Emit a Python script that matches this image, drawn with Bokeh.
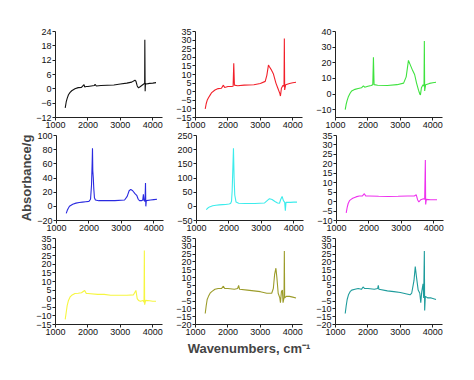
from bokeh.plotting import figure
from bokeh.layouts import column, row, Spacer
from bokeh.models import FixedTicker, Range1d
from bokeh.embed import file_html
from bokeh.resources import INLINE

# ---------------- data ----------------
x_ticks = [1000, 2000, 3000, 4000]

black_x = [1300, 1330, 1360, 1400, 1450, 1500, 1600, 1700, 1800, 1880, 1900, 1950, 2000, 2100, 2200, 2220, 2260, 2400, 2600, 2800, 3000, 3200, 3350, 3450, 3480, 3520, 3560, 3620, 3680, 3720, 3750, 3755, 3765, 3775, 3800, 3900, 4000, 4100]
black_y = [-8, -5.5, -4, -2.5, -1.5, -0.8, 0, 0.5, 0.6, 1.8, 0.8, 1.0, 1.0, 1.2, 1.4, 1.9, 1.2, 1.4, 1.5, 1.6, 2.0, 2.4, 2.8, 3.6, 3.2, 1.2, 0.4, 1.0, 1.6, 2.0, 2.2, 20.5, -1.0, 2.2, 2.0, 2.3, 2.4, 2.6]

red_x = [1300, 1330, 1360, 1400, 1450, 1500, 1600, 1700, 1800, 1860, 1900, 2000, 2100, 2160, 2180, 2200, 2300, 2500, 2800, 3000, 3150, 3200, 3250, 3280, 3330, 3400, 3480, 3540, 3600, 3620, 3650, 3700, 3730, 3740, 3750, 3780, 3900, 4000, 4100]
red_y = [-10, -7, -5, -3.5, -2, -0.5, 1, 1.8, 2.0, 3.8, 2.4, 3.0, 3.0, 3.2, 16.5, 3.8, 3.5, 3.8, 4.0, 4.8, 6.0, 9.5, 15.5, 14.5, 13.0, 10.5, 5.0, 2.0, -1.0, -2.5, 2.0, 3.8, 3.0, 31.0, 1.0, 4.0, 4.8, 5.2, 5.5]

green_x = [1300, 1330, 1360, 1400, 1450, 1500, 1600, 1700, 1800, 1860, 1900, 2000, 2100, 2150, 2170, 2190, 2300, 2600, 2900, 3100, 3180, 3250, 3300, 3380, 3440, 3500, 3560, 3600, 3620, 3650, 3700, 3730, 3740, 3750, 3780, 3900, 4000, 4100]
green_y = [-10, -6.5, -4, -1.5, 0.5, 2, 3, 3.5, 4, 5.2, 4.4, 5.0, 5.5, 6.0, 23.5, 6.0, 5.6, 5.5, 6.0, 7.0, 11.0, 21.5, 19.0, 15.0, 12.5, 7.0, 2.5, 0.0, -0.5, 4.0, 6.0, 5.0, 34.0, 2.0, 6.0, 6.8, 7.2, 7.5]

blue_x = [1300, 1330, 1360, 1400, 1500, 1600, 1700, 1800, 1900, 2000, 2050, 2080, 2100, 2110, 2120, 2135, 2150, 2170, 2200, 2300, 2500, 2800, 3100, 3180, 3240, 3290, 3350, 3420, 3480, 3520, 3560, 3620, 3660, 3680, 3700, 3730, 3745, 3755, 3770, 3900, 4000, 4100]
blue_y = [-10, -6, -3, 0, 3, 4.5, 5.5, 6, 6.5, 7, 10, 30, 62, 82, 50, 40, 25, 12, 9, 8, 8, 8, 9, 14, 22, 24, 22, 18, 15, 10, 8, 8, 9, 17, 8, 7, 33, 0, 8, 9, 9.5, 10]

cyan_x = [1300, 1350, 1400, 1500, 1600, 1700, 1800, 1900, 2000, 2050, 2080, 2100, 2120, 2140, 2160, 2180, 2220, 2300, 2500, 2800, 3100, 3180, 3250, 3330, 3420, 3500, 3560, 3600, 3640, 3680, 3720, 3740, 3760, 3800, 3900, 4000, 4100]
cyan_y = [-12, -6, -2, 2, 4, 5, 6, 6.5, 8, 10, 18, 55, 130, 205, 100, 40, 15, 11, 10, 10, 12, 20, 27, 24, 17, 12, 11, 25, 35, 20, 14, -15, 14, 14, 14, 15, 15]

magenta_x = [1300, 1330, 1360, 1400, 1450, 1500, 1600, 1700, 1800, 1860, 1900, 2000, 2300, 2600, 2900, 3200, 3400, 3460, 3500, 3540, 3600, 3680, 3720, 3740, 3750, 3770, 3900, 4000, 4100]
magenta_y = [-6, -3, -1, 0.5, 1.2, 1.8, 2.5, 3, 3, 4.2, 3.0, 3.0, 2.8, 2.7, 2.8, 3.0, 3.0, 3.6, 1.0, -0.2, 1.0, 1.5, 1.2, 22.0, -1.5, 1.2, 1.0, 1.0, 1.0]

yellow_x = [1300, 1330, 1360, 1400, 1450, 1500, 1600, 1700, 1800, 1900, 1950, 2000, 2300, 2500, 2700, 3000, 3200, 3400, 3480, 3520, 3560, 3620, 3700, 3730, 3740, 3750, 3780, 3900, 4000, 4100]
yellow_y = [-12, -8, -4, -1, 1, 2, 3, 3.2, 3.5, 4.8, 3.0, 3.0, 2.5, 2.5, 2.0, 2.0, 2.0, 2.2, 4.8, 0.0, -1.0, -1.5, -1.0, -2.0, 28.0, -3.5, -1.0, -1.2, -1.5, -1.5]

olive_x = [1300, 1330, 1360, 1400, 1450, 1500, 1600, 1700, 1800, 1860, 1900, 2000, 2200, 2300, 2330, 2360, 2600, 2800, 3000, 3200, 3350, 3400, 3440, 3480, 3510, 3550, 3600, 3620, 3650, 3680, 3700, 3730, 3740, 3750, 3800, 3900, 4000, 4100]
olive_y = [-13, -8, -4, -2, 0, 1, 2.5, 3, 3, 4.5, 3.0, 3.0, 2.5, 3.0, 5.0, 2.5, 2.0, 1.5, 1.0, 0.0, 0.0, 3.0, 12.0, 16.0, 10.0, 0.0, -3.0, -6.0, 1.0, 2.0, -6.0, -3.0, 27.0, -3.0, -2.0, -2.0, -2.5, -3.0]

teal_x = [1300, 1330, 1360, 1400, 1450, 1500, 1600, 1700, 1800, 1850, 1900, 2000, 2200, 2300, 2320, 2340, 2600, 2800, 3000, 3200, 3300, 3350, 3420, 3460, 3500, 3550, 3600, 3630, 3660, 3700, 3720, 3740, 3750, 3770, 3850, 3950, 4100]
teal_y = [-13, -8, -4, -1, 1, 2, 2.5, 3, 2.5, 4.0, 3.0, 3.0, 2.5, 3.0, 5.0, 2.5, 1.5, 1.0, 0.5, -0.5, -1.0, 0.0, 8.0, 17.0, 10.0, 2.0, 0.0, -6.0, 1.0, 6.0, -3.0, 27.0, -11.0, -2.0, -3.0, -3.0, -4.0]

black_ticks = [-12, -6, 0, 6, 12, 18, 24]
red_ticks = [-15, -10, -5, 0, 5, 10, 15, 20, 25, 30, 35]
green_ticks = [-10, 0, 10, 20, 30, 40]
blue_ticks = [-20, 0, 20, 40, 60, 80, 100]
cyan_ticks = [-50, 0, 50, 100, 150, 200, 250]
magenta_ticks = [-10, -5, 0, 5, 10, 15, 20, 25, 30, 35]
yellow_ticks = [-15, -10, -5, 0, 5, 10, 15, 20, 25, 30, 35]
olive_ticks = [-20, -15, -10, -5, 0, 5, 10, 15, 20, 25, 30, 35]
teal_ticks = [-20, -15, -10, -5, 0, 5, 10, 15, 20, 25, 30, 35]

panels = [
    (black_x, black_y, "#111111", (-12, 24), black_ticks),
    (red_x, red_y, "#f2202a", (-15, 35), red_ticks),
    (green_x, green_y, "#3ee23e", (-15, 40), green_ticks),
    (blue_x, blue_y, "#2a2ae0", (-20, 100), blue_ticks),
    (cyan_x, cyan_y, "#3cecec", (-50, 250), cyan_ticks),
    (magenta_x, magenta_y, "#ee30ee", (-10, 35), magenta_ticks),
    (yellow_x, yellow_y, "#f6f640", (-15, 35), yellow_ticks),
    (olive_x, olive_y, "#9c9c2a", (-20, 35), olive_ticks),
    (teal_x, teal_y, "#1e9c9c", (-20, 35), teal_ticks),
]

FONT = "Liberation Sans"
left_b = [39, 22, 22]
top_b = [31, 5, 5]
bot_b = [12, 12, 40]
frame_h = [86, 85, 86]

figs = []
for i, (xs, ys, col, yr, yt) in enumerate(panels):
    r, c = divmod(i, 3)
    p = figure(frame_width=107, frame_height=frame_h[r], output_backend="svg",
               toolbar_location=None, x_range=Range1d(1000, 4300), y_range=Range1d(*yr),
               min_border_left=left_b[c], min_border_right=11,
               min_border_top=top_b[r], min_border_bottom=bot_b[r])
    p.line(xs, ys, line_color=col, line_width=1.1)
    p.outline_line_color = None
    p.grid.visible = False
    p.background_fill_color = "white"
    p.border_fill_color = "white"
    p.xaxis.ticker = FixedTicker(ticks=x_ticks, minor_ticks=[])
    p.yaxis.ticker = FixedTicker(ticks=yt, minor_ticks=[])
    for ax in (p.xaxis[0], p.yaxis[0]):
        ax.major_tick_out = 3
        ax.major_tick_in = 0
        ax.minor_tick_out = 0
        ax.minor_tick_in = 0
        ax.axis_line_color = "#222222"
        ax.major_tick_line_color = "#222222"
        ax.major_label_text_font = FONT
        ax.major_label_text_font_size = "9px"
        ax.major_label_text_color = "#111111"
        ax.major_label_standoff = 1
    if i == 3:
        p.yaxis.axis_label = "Absorbance/g"
        p.yaxis.axis_label_text_font = FONT
        p.yaxis.axis_label_text_font_size = "13px"
        p.yaxis.axis_label_text_font_style = "bold"
        p.yaxis.axis_label_standoff = 0
    if i == 7:
        p.xaxis.axis_label = "Wavenumbers, cm\u207b\u00b9"
        p.xaxis.axis_label_text_font = FONT
        p.xaxis.axis_label_text_font_size = "13px"
        p.xaxis.axis_label_text_font_style = "bold"
        p.xaxis.axis_label_standoff = 3
    figs.append(p)

rows = []
for r in range(3):
    rows.append(row(Spacer(width=16, height=10), *figs[3 * r:3 * r + 3]))

layout = column(*rows)
open("out.html", "w").write(file_html(layout, INLINE))
